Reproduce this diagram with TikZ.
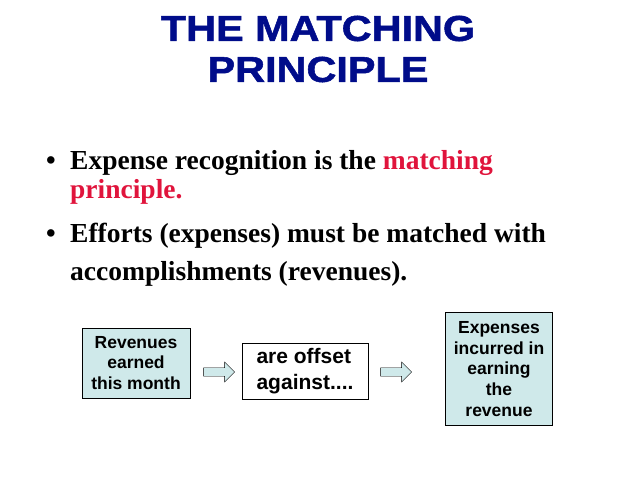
\documentclass[tikz,border=0pt]{standalone}
\usepackage{fontspec}
\setmainfont{Liberation Serif}
\newfontfamily\arial{Liberation Sans}
\newfontfamily\titlefont[FakeStretch=1.15,FakeBold=1.5]{Liberation Sans}
\usetikzlibrary{shapes.arrows}
\definecolor{tblue}{HTML}{000C8A}
\definecolor{mred}{HTML}{E0143C}
\definecolor{bfill}{HTML}{CFE9EA}
\begin{document}
\begin{tikzpicture}[x=1pt,y=-1pt,
  boxa/.style={draw,line width=0.8pt,font=\arial\bfseries\fontsize{17.5}{20.7}\selectfont,align=center,inner sep=0pt},
  arr/.style={single arrow,draw,fill=bfill,minimum height=31pt,minimum width=20pt,single arrow head extend=3pt,inner sep=2pt,anchor=center},
  bul/.style={anchor=base west,font=\bfseries\fontsize{27.5}{30}\selectfont,inner sep=0pt}]
\useasboundingbox (0,0) rectangle (638,487);
\node[font=\titlefont\bfseries\fontsize{36}{41}\selectfont,text=tblue,align=center] (title) at (318,49) {THE MATCHING\\PRINCIPLE};
\node[bul] (b1) at (46,169) {•};
\node[bul] (l1) at (70,169) {Expense recognition is the \textcolor{mred}{matching}};
\node[bul] (l2) at (70,198) {\textcolor{mred}{principle.}};
\node[bul] (b2) at (46,242) {•};
\node[bul] (l3) at (70,242) {Efforts (expenses) must be matched with};
\node[bul] (l4) at (70,280) {accomplishments (revenues).};
\node[boxa,fill=bfill,minimum width=108pt,minimum height=70pt] (r) at (136,363) {Revenues\\earned\\this month};
\node[boxa,fill=white,minimum width=126pt,minimum height=56pt,align=left,font=\arial\bfseries\fontsize{21}{26}\selectfont] (o) at (305,371) {are offset\\against....};
\node[boxa,fill=bfill,minimum width=107pt,minimum height=113pt] (e) at (499,369) {Expenses\\incurred in\\earning\\the\\revenue};
\node[arr] (a1) at (217,372) {};
\node[arr] (a2) at (394,372) {};
\end{tikzpicture}
\end{document}
